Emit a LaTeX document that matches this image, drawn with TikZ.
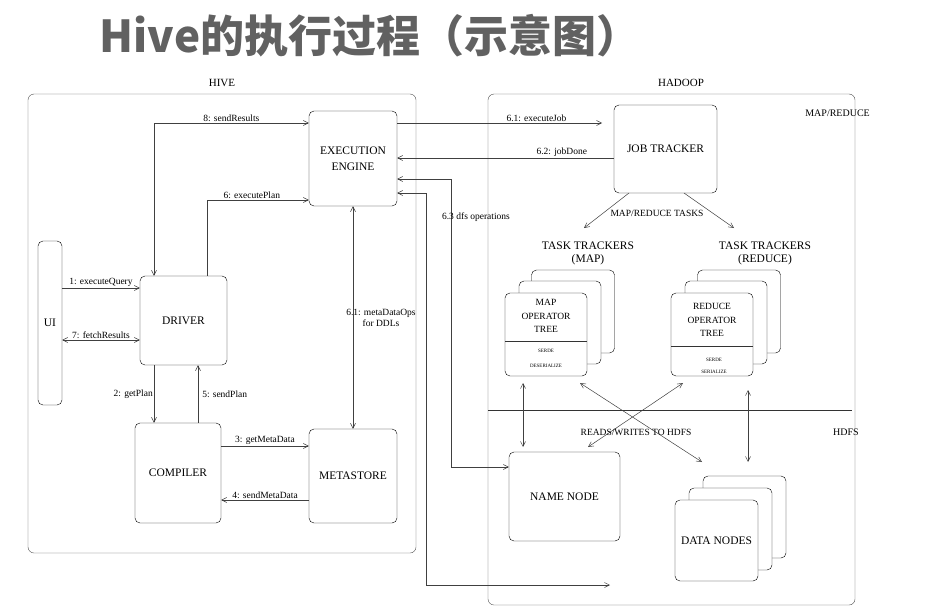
\documentclass[tikz,border=0pt]{standalone}
\usepackage{fontspec}
\setmainfont{Liberation Serif}
\newfontfamily\cjk{Noto Sans CJK SC}
\usetikzlibrary{arrows.meta}

\begin{document}
\begin{tikzpicture}[x=1pt,y=-1pt,
  >={Straight Barb[length=5pt,width=5pt]},
  box/.style={draw=black,rounded corners=5pt,fill=white,inner sep=1pt,align=center,font=\fontsize{11.5}{16}\selectfont},
  lbl/.style={font=\fontsize{9.5}{11}\selectfont,inner sep=1pt},
  arr/.style={draw=black!75,line width=0.5pt}]
\useasboundingbox (0,0) rectangle (942,613);
%\draw[gray] (0,0) grid[step=50] (942,613);

% title
\node[font=\cjk\fontsize{44}{48}\selectfont\bfseries,text=black!62] (title) at (370,36) {Hive的执行过程（示意图）};

% frames
\draw[black!70,rounded corners=6pt] (28,94) rectangle (416,553);
\draw[black!70,rounded corners=6pt] (488,94) -- (488,605) -- (855,605) -- (855,94) -- cycle;
\draw[black!80] (488,410) -- (852,410);
\node[lbl,font=\fontsize{11}{13}\selectfont] (hivelbl) at (222,83) {HIVE};
\node[lbl,font=\fontsize{11}{13}\selectfont] (hadooplbl) at (681,83) {HADOOP};
\node[lbl,font=\fontsize{10}{12}\selectfont,anchor=east] (mrlbl) at (871,113) {MAP/REDUCE};
\node[lbl,font=\fontsize{10}{12}\selectfont] (hdfslbl) at (846,432) {HDFS};

% hive side
\node[box,minimum width=88pt,minimum height=95pt] (ee) at (353,158.5) {EXECUTION\\ENGINE};
\node[box,minimum width=24pt,minimum height=164pt] (ui) at (50,323) {UI};
\node[box,minimum width=87pt,minimum height=89pt] (driver) at (183.5,320.5) {DRIVER};
\node[box,minimum width=86pt,minimum height=100pt] (compiler) at (178,473) {COMPILER};
\node[box,minimum width=88pt,minimum height=94pt] (meta) at (353,476) {METASTORE};

% hadoop side
\node[box,minimum width=103pt,minimum height=88pt] (jt) at (665.5,149) {JOB TRACKER};
\node[box,minimum width=111pt,minimum height=89pt] (nn) at (564.5,496.5) {NAME NODE};
\node[box,minimum width=83pt,minimum height=82pt] (dnC) at (744.5,517) {};
\node[box,minimum width=83pt,minimum height=82pt] (dnB) at (730.5,529) {};
\node[box,minimum width=83pt,minimum height=81pt] (dn) at (716.5,540.5) {DATA NODES};

\foreach \n/\x in {map/546,red/712}{
  \node[box,minimum width=83pt,minimum height=83pt] (\n C) at (\x+27,311.5) {};
  \node[box,minimum width=82pt,minimum height=83pt] (\n B) at (\x+14,322.5) {};
  \node[box,minimum width=82pt,minimum height=83pt] (\n) at (\x,334.5) {};
}
\draw[black!80] (505,341) -- (587,341);
\draw[black!80] (671,346) -- (753,346);
\node[align=center,font=\fontsize{9.5}{13.5}\selectfont] (maptree) at (546,316) {MAP\\OPERATOR\\TREE};
\node[align=center,font=\fontsize{5}{15}\selectfont] (mapserde) at (546,358) {SERDE\\DESERIALIZE};
\node[align=center,font=\fontsize{9.5}{13.5}\selectfont] (redtree) at (712,320) {REDUCE\\OPERATOR\\TREE};
\node[align=center,font=\fontsize{5}{12}\selectfont] (redserde) at (714,366) {SERDE\\SERIALIZE};
\node[align=center,font=\fontsize{11.5}{13}\selectfont] (mapttl) at (588,253) {TASK TRACKERS\\(MAP)};
\node[align=center,font=\fontsize{11.5}{13}\selectfont] (redttl) at (765,253) {TASK TRACKERS\\(REDUCE)};

% hive connectors
\draw[arr,<->] (driver.north-|154,0) |- (ee.west|-0,123) node[lbl,pos=0.75,above] {8: sendResults};
\draw[arr,->] (driver.north-|207,0) |- (ee.west|-0,200) node[lbl,pos=0.72,above] {6: executePlan};
\draw[arr,->] (ui.east|-0,288) -- (driver.west|-0,288) node[lbl,midway,above] {1: executeQuery};
\draw[arr,<->] (ui.east|-0,340) -- (driver.west|-0,340) node[lbl,midway,above] {7: fetchResults};
\draw[arr,->] (driver.south-|154,0) -- (compiler.north-|154,0) node[lbl,midway,left] {2: getPlan};
\draw[arr,->] (compiler.north-|198,0) -- (driver.south-|198,0) node[lbl,midway,right,xshift=3pt] {5: sendPlan};
\draw[arr,->] (compiler.east|-0,446) -- (meta.west|-0,446) node[lbl,midway,above] {3: getMetaData};
\draw[arr,->] (meta.west|-0,500) -- (compiler.east|-0,500) node[lbl,midway,above] {4: sendMetaData};
\draw[arr,<->] (ee.south) -- (meta.north) node[lbl,midway,right,align=center,xshift=-8pt] {6.1: metaDataOps\\for DDLs};

% hive <-> hadoop
\draw[arr,->] (ee.east|-0,123) -- (602,123) node[lbl,pos=0.68,above] {6.1: executeJob};
\draw[arr,->] (jt.west|-0,158) -- (ee.east|-0,158) node[lbl,pos=0.24,above] {6.2: jobDone};
\draw[arr,<->] (ee.east|-0,179) -| (451,467) -- (nn.west|-0,467);
\draw[arr,<->] (ee.east|-0,193) -| (426,585) -- (610,585);
\node[lbl] (dfslbl) at (476,217) {6.3 dfs operations};

% hadoop connectors
\draw[arr,->] (629,193) -- (584,228);
\draw[arr,->] (684,193) -- (734,228);
\node[lbl] (mrtasks) at (657,213) {MAP/REDUCE TASKS};
\draw[arr,<->] (523,383) -- (523,447);
\draw[arr,<->] (748,390) -- (748,462);
\draw[arr,<->] (580,383) -- (702,462);
\draw[arr,<->] (683,383) -- (588,447);
\node[lbl] (rwlbl) at (636,432) {READS/WRITES TO HDFS};
\end{tikzpicture}
\end{document}
